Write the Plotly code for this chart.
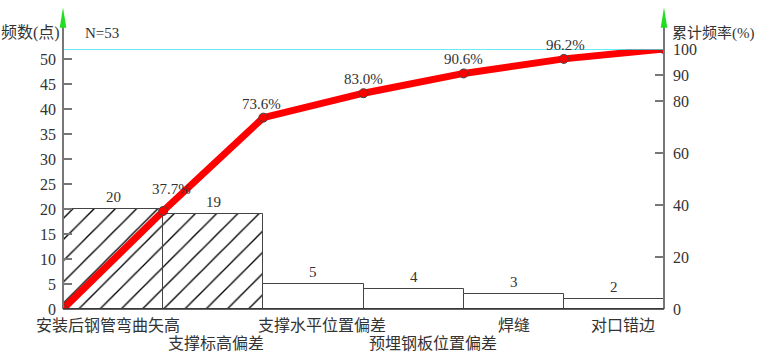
import plotly.graph_objects as go

categories = ["安装后钢管弯曲矢高", "支撑标高偏差", "支撑水平位置偏差", "预埋钢板位置偏差", "焊缝", "对口错边"]
counts = [20, 19, 5, 4, 3, 2]
cum_pct = [0, 37.7, 73.6, 83.0, 90.6, 96.2, 100]
cum_pct_labels = ["", "37.7%", "73.6%", "83.0%", "90.6%", "96.2%", ""]
left_ticks = [0, 5, 10, 15, 20, 25, 30, 35, 40, 45, 50]
right_ticks = [0, 20, 40, 60, 80, 90, 100]
total_label = "N=53"

FONT = "Liberation Serif, Noto Sans CJK SC, serif"
TXT = "#333333"
AX = "#777777"

# style-only lists
label_rows = [0, 1, 0, 1, 0, 0]
label_xshift = [-5, 3, 9, 19, 0, 9]
pct_yshift = [0, 22, 14, 14, 14, 14, 0]
pct_xshift = [0, 8, -2, 0, 0, 2, 0]

x_centers = [i + 0.5 for i in range(len(categories))]
x_edges = list(range(len(categories) + 1))

fig = go.Figure()

fig.add_trace(go.Bar(
    x=x_centers, y=counts, width=1,
    marker=dict(
        color="white",
        line=dict(color="#444444", width=1),
        pattern=dict(shape=["/", "/", "", "", "", ""], fgcolor="#000000", fgopacity=1,
                     bgcolor="white", size=15, solidity=0.09, fillmode="overlay"),
    ),
    showlegend=False, hoverinfo="skip",
))

fig.add_trace(go.Scatter(
    x=x_edges, y=cum_pct, yaxis="y2", mode="lines+markers",
    line=dict(color="#ff0000", width=7),
    marker=dict(size=9, color="#ff0000", line=dict(color="#444444", width=1)),
    showlegend=False, hoverinfo="skip",
))

annotations = []
for i, (c, v) in enumerate(zip(categories, counts)):
    annotations.append(dict(x=x_centers[i], y=v, xref="x", yref="y", text=str(v),
                            showarrow=False, yanchor="middle", yshift=12,
                            font=dict(family=FONT, size=15, color=TXT)))
    annotations.append(dict(x=x_centers[i], y=0, xref="x", yref="paper", text=c,
                            showarrow=False, yanchor="middle",
                            yshift=-16 if label_rows[i] == 0 else -34,
                            xshift=label_xshift[i],
                            font=dict(family=FONT, size=16, color=TXT)))
for i, (p, t) in enumerate(zip(cum_pct, cum_pct_labels)):
    if t:
        annotations.append(dict(x=x_edges[i], y=p, xref="x", yref="y2", text=t,
                                showarrow=False, yanchor="middle", yshift=pct_yshift[i],
                                xshift=pct_xshift[i],
                                font=dict(family=FONT, size=15, color=TXT)))

annotations.append(dict(x=0, y=1.0, xref="paper", yref="paper", text="频数(点)",
                        showarrow=False, xanchor="right", yanchor="middle", yshift=16, xshift=-1,
                        font=dict(family=FONT, size=16, color=TXT)))
annotations.append(dict(x=0, y=1.0, xref="paper", yref="paper", text=total_label,
                        showarrow=False, xanchor="left", yanchor="middle", yshift=16, xshift=20,
                        font=dict(family=FONT, size=15, color=TXT)))
annotations.append(dict(x=1, y=1.0, xref="paper", yref="paper", text="累计频率(%)",
                        showarrow=False, xanchor="left", yanchor="middle", yshift=16, xshift=6,
                        font=dict(family=FONT, size=15, color=TXT)))

shapes = [
    dict(type="line", xref="paper", yref="y2", x0=0, x1=1, y0=100, y1=100,
         line=dict(color="#33e6ee", width=1.3), layer="above"),
    dict(type="line", xref="paper", yref="paper", x0=0, x1=0, y0=0, y1=1.085,
         line=dict(color=AX, width=2)),
    dict(type="line", xref="paper", yref="paper", x0=1, x1=1, y0=0, y1=1.085,
         line=dict(color=AX, width=2)),
    dict(type="line", xref="paper", yref="paper", x0=0, x1=1, y0=0, y1=0,
         line=dict(color="#333333", width=1.5)),
    dict(type="path", xref="paper", yref="paper",
         path="M -0.0055 1.082 L 0.0055 1.082 L 0 1.16 Z",
         fillcolor="#22dd22", line=dict(color="#22dd22", width=0)),
    dict(type="path", xref="paper", yref="paper",
         path="M 0.9945 1.082 L 1.0055 1.082 L 1 1.16 Z",
         fillcolor="#22dd22", line=dict(color="#22dd22", width=0)),
]

fig.update_layout(
    width=760, height=356,
    margin=dict(l=63, r=96, t=49, b=47),
    paper_bgcolor="white", plot_bgcolor="white",
    bargap=0,
    xaxis=dict(range=[0, 6], showgrid=False, zeroline=False, showticklabels=False,
               ticks="", showline=False, fixedrange=True, automargin=False),
    yaxis=dict(range=[0, 52], tickvals=left_ticks, showgrid=False, zeroline=False,
               ticks="inside", ticklen=9, tickcolor=AX, tickwidth=1.5, showline=False,
               ticklabelstandoff=6, automargin=False,
               tickfont=dict(family=FONT, size=16, color=TXT)),
    yaxis2=dict(range=[0, 100], tickvals=right_ticks, overlaying="y", side="right",
                showgrid=False, zeroline=False, ticks="inside", ticklen=9, tickcolor=AX,
                tickwidth=1.5, showline=False, ticklabelstandoff=8, automargin=False,
                tickfont=dict(family=FONT, size=16, color=TXT)),
    annotations=annotations,
    shapes=shapes,
)

fig.write_html("out.html", config={"displayModeBar": False},
               post_script="document.body.style.margin='0';document.body.style.overflow='hidden';")
